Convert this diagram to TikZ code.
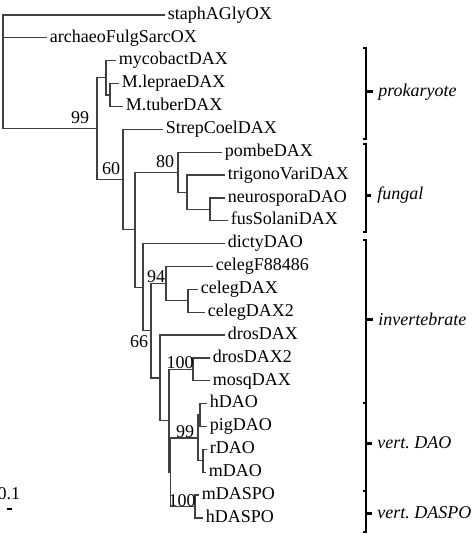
\documentclass[tikz,border=0pt]{standalone}
\usepackage{fontspec}
\setmainfont{Liberation Serif}
\usepackage{tikz}

\begin{document}
\begin{tikzpicture}[x=0.5pt, y=-0.5pt,
        branch/.style={draw=black!75, line width=0.6pt},
        leaf/.style={anchor=west, inner sep=1.2pt, text height=6.2pt, text depth=2pt, font=\fontsize{9}{11}\selectfont},
        boot/.style={inner sep=0pt, font=\fontsize{9}{11}\selectfont},
        bracket/.style={line width=1pt},
        tick/.style={line width=1.5pt},
        clade/.style={anchor=west, inner sep=1pt, font=\fontsize{9}{11}\selectfont\itshape}]
        \useasboundingbox (0,0) rectangle (474,534);

        % Internal nodes
        \coordinate (root) at (3, 72);
        \coordinate (n99)  at (97, 128.7);
        \coordinate (nmyc) at (106, 77.9);
        \coordinate (nmlt) at (110, 95);
        \coordinate (n60)  at (123, 179.5);
        \coordinate (nd)   at (135, 229.7);
        \coordinate (n80)  at (178, 172.2);
        \coordinate (nt)   at (187, 192.2);
        \coordinate (nnf)  at (210, 209.3);
        \coordinate (ne)   at (143, 287.2);
        \coordinate (nf)   at (151, 330.7);
        \coordinate (n94)  at (166, 283.6);
        \coordinate (nce)  at (188, 300.8);
        \coordinate (ng)   at (160, 377.9);
        \coordinate (nh)   at (169, 420.7);
        \coordinate (n100a) at (193, 369.3);
        \coordinate (ni)   at (170.5, 472.2);
        \coordinate (n99v) at (198, 437.9);
        \coordinate (nhp)  at (200, 415);
        \coordinate (nrm)  at (203, 460.8);
        \coordinate (n100b) at (195, 506.5);

        % Leaves
        \node[leaf] (staph)   at (165, 15)    {staphAGlyOX};
        \node[leaf] (archaeo) at (47, 37.9)   {archaeoFulgSarcOX};
        \node[leaf] (myco)    at (116, 60.7)  {mycobactDAX};
        \node[leaf] (mlep)    at (119, 83.6)  {M.lepraeDAX};
        \node[leaf] (mtub)    at (123, 106.4) {M.tuberDAX};
        \node[leaf] (strep)   at (163, 129.3) {StrepCoelDAX};
        \node[leaf] (pombe)   at (222, 152.2) {pombeDAX};
        \node[leaf] (trigono) at (225, 175)   {trigonoVariDAX};
        \node[leaf] (neuro)   at (225, 197.9) {neurosporaDAO};
        \node[leaf] (fus)     at (228, 220.7) {fusSolaniDAX};
        \node[leaf] (dicty)   at (225, 243.6) {dictyDAO};
        \node[leaf] (celegf)  at (213, 266.5) {celegF88486};
        \node[leaf] (celeg)   at (198, 289.3) {celegDAX};
        \node[leaf] (celegb)  at (205, 312.2) {celegDAX2};
        \node[leaf] (dros)    at (225, 335)   {drosDAX};
        \node[leaf] (drosb)   at (210, 357.9) {drosDAX2};
        \node[leaf] (mosq)    at (210, 380.8) {mosqDAX};
        \node[leaf] (hdao)    at (207, 403.6) {hDAO};
        \node[leaf] (pig)     at (207, 426.5) {pigDAO};
        \node[leaf] (rdao)    at (207, 449.3) {rDAO};
        \node[leaf] (mdao)    at (206, 472.2) {mDAO};
        \node[leaf] (mdaspo)  at (199, 495)   {mDASPO};
        \node[leaf] (hdaspo)  at (203, 517.9) {hDASPO};

        % Branches
        \draw[branch] (root) |- (staph.west) (root) |- (archaeo.west) (root) |- (n99);
        \draw[branch] (n99) |- (nmyc) (n99) |- (n60);
        \draw[branch] (nmyc) |- (myco.west) (nmyc) |- (nmlt);
        \draw[branch] (nmlt) |- (mlep.west) (nmlt) |- (mtub.west);
        \draw[branch] (n60) |- (strep.west) (n60) |- (nd);
        \draw[branch] (nd) |- (n80) (nd) |- (ne);
        \draw[branch] (n80) |- (pombe.west) (n80) |- (nt);
        \draw[branch] (nt) |- (trigono.west) (nt) |- (nnf);
        \draw[branch] (nnf) |- (neuro.west) (nnf) |- (fus.west);
        \draw[branch] (ne) |- (dicty.west) (ne) |- (nf);
        \draw[branch] (nf) |- (n94) (nf) |- (ng);
        \draw[branch] (n94) |- (celegf.west) (n94) |- (nce);
        \draw[branch] (nce) |- (celeg.west) (nce) |- (celegb.west);
        \draw[branch] (ng) |- (dros.west) (ng) |- (nh);
        \draw[branch] (nh) |- (n100a) (nh) |- (ni);
        \draw[branch] (n100a) |- (drosb.west) (n100a) |- (mosq.west);
        \draw[branch] (ni) |- (n99v) (ni) |- (n100b);
        \draw[branch] (n99v) |- (nhp) (n99v) |- (nrm);
        \draw[branch] (nhp) |- (hdao.west) (nhp) |- (pig.west);
        \draw[branch] (nrm) |- (rdao.west) (nrm) |- (mdao.west);
        \draw[branch] (n100b) |- (mdaspo.west) (n100b) |- (hdaspo.west);

        % Bootstrap values
        \node[boot] (b99)   at (80, 118)  {99};
        \node[boot] (b60)   at (111, 169) {60};
        \node[boot] (b80)   at (165, 162) {80};
        \node[boot] (b94)   at (156, 277) {94};
        \node[boot] (b66)   at (139, 342) {66};
        \node[boot] (b100a) at (180, 363) {100};
        \node[boot] (b99v)  at (185, 432) {99};
        \node[boot] (b100b) at (182, 501) {100};

        % Clade brackets
        \draw[bracket] (363, 48) -- (366, 48) -- (366, 139) -- (363, 139);
        \draw[tick] (366, 92) -- (373, 92);
        \node[clade] (prok) at (376, 92) {prokaryote};

        \draw[bracket] (363, 144) -- (366, 144) -- (366, 232) -- (363, 232);
        \draw[tick] (366, 195) -- (371, 195);
        \node[clade] (fung) at (375, 195) {fungal};

        \draw[bracket] (363, 240) -- (366, 240) -- (366, 403) -- (363, 403);
        \draw[tick] (366, 319) -- (373, 319);
        \node[clade] (inv) at (376, 319) {invertebrate};

        \draw[bracket] (363, 403) -- (366, 403) -- (366, 491) -- (363, 491);
        \draw[tick] (366, 443) -- (372, 443);
        \node[clade] (vdao) at (375, 443) {vert.\ DAO};

        \draw[bracket] (363, 491) -- (366, 491) -- (366, 532) -- (363, 532);
        \draw[tick] (366, 513) -- (372, 513);
        \node[clade] (vdaspo) at (375, 513) {vert.\ DASPO};

        % Scale bar
        \node[boot] (scale) at (9, 494) {0.1};
        \coordinate (sb1) at (7, 509);
        \coordinate (sb2) at (12, 509);
        \draw[bracket] (sb1) -- (sb2);
    \end{tikzpicture}
\end{document}
